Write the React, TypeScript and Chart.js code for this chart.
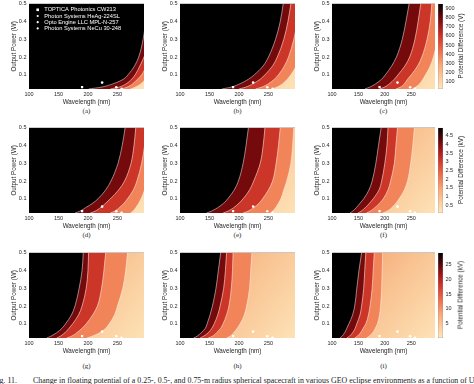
import React, { useEffect, useRef } from "react";
import { Chart, registerables } from "chart.js";
Chart.register(...registerables);

const SANS = "'Liberation Sans', Arial, Helvetica, sans-serif";
const SERIF = "'Liberation Serif', 'Times New Roman', serif";
const TXT = "#262626";

// ---------- data ----------
const P_LEVELS = [0.02, 0.03, 0.05, 0.075, 0.1, 0.15, 0.2, 0.3, 0.4, 0.5];
const X_TICKS = [100, 150, 200, 250];
const Y_TICKS = [0.1, 0.2, 0.3, 0.4, 0.5];
const X_MIN = 100, X_MAX = 295, Y_MIN = 0.02, Y_MAX = 0.5;

// contour wavelengths (nm) at each P_LEVELS value; *1 = edge of the saturated region
const A1 = [201, 222, 243, 260, 268, 279, 286, 293.5, 298, 302];
const A2 = [238, 252, 265, 274, 280, 288, 295, 305, 312, 318];
const A3 = [256, 266, 276, 284, 291, 299, 306, 315, 322, 328];
const A4 = [272, 280, 290, 297, 303, 310, 316, 325, 332, 338];

const B1 = [171, 186, 202, 216, 226, 241, 250, 262, 270, 275];
const B2 = [200, 211, 224, 236, 244, 257, 265, 276, 283, 288];
const B3 = [228, 238, 250, 260, 267, 277, 284, 293, 299, 303];
const B4 = [256, 264, 274, 282, 288, 297, 303, 311, 317, 321];

const C1 = [162, 171, 183, 194, 201, 213, 222, 233, 240, 246];
const C2 = [190, 199, 209, 218, 225, 238, 247, 257, 263, 268];
const C3 = [221, 229, 237, 243, 250, 262, 270, 280, 286, 289];
const C4 = [252, 258, 266, 272, 277, 286, 292, 300, 305, 309];

const D1 = [178, 186, 196, 208, 217, 230, 239, 251, 258, 263];
const D2 = [204, 212, 221, 230, 238, 252, 262, 273, 278, 281];
const D3 = [238, 245, 253, 261, 267, 277, 283, 291, 296, 300];
const D4 = [272, 276, 281, 286, 290, 296, 301, 308, 313, 317];

const E1 = [145, 153, 164, 174, 181, 192, 199, 207, 212, 216];
const E2 = [173, 181, 191, 200, 207, 218, 225, 236, 241, 244];
const E3 = [207, 215, 225, 234, 240, 250, 257, 263, 267, 270];
const E4 = [253, 257, 262, 267, 271, 276, 281, 288, 291, 293];

const F1 = [134, 139, 146, 153, 160, 170, 176, 183, 188, 193];
const F2 = [149, 155, 163, 171, 178, 189, 194, 200, 204, 206];
const F3 = [165, 172, 181, 190, 197, 206, 211, 218, 221, 224];
const F4 = [196, 204, 213, 221, 227, 237, 243, 249, 253, 256];

const G1 = [130, 137, 147, 156, 162, 172, 178, 185, 190, 192];
const G2 = [147, 153, 161, 168, 174, 184, 190, 197, 200, 201];
const G3 = [164, 172, 181, 190, 197, 208, 216, 223, 227, 230];
const G4 = [198, 207, 220, 230, 236, 245, 250, 259, 264, 267];

const H1 = [123, 129, 136, 143, 146, 151, 155, 161, 165, 169];
const H2 = [134, 140, 148, 154, 158, 164, 168, 174, 177, 179];
const H3 = [148, 155, 162, 169, 173, 179, 183, 187, 189, 190];
const H4 = [179, 185, 191, 197, 202, 209, 213, 218, 220, 222];

const I1 = [115, 119, 124, 128, 132, 139, 143, 147, 151, 156];
const I2 = [128, 133, 139, 144, 147, 153, 156, 160, 162, 164];
const I3 = [143, 148, 154, 159, 164, 169, 172, 176, 178, 180];
const I4 = [165, 170, 177, 182, 186, 190, 192, 194, 195, 196];

const LASER_NAMES = [
  "TOPTICA Photonics CW213",
  "Photon Systems HeAg-224SL",
  "Opto Engine LLC MPL-N-257",
  "Photon Systems NeCu 30-248",
];
const LASER_NM = [190, 224, 257, 248];
const LASER_W = [0.03, 0.056, 0.021, 0.03];
const LASER_STYLE = ["rect", "circle", "circle", "circle"];

const PANEL_LABELS = ["(a)", "(b)", "(c)", "(d)", "(e)", "(f)", "(g)", "(h)", "(i)"];
const PANEL_CURVES = [
  [A1, A2, A3, A4], [B1, B2, B3, B4], [C1, C2, C3, C4],
  [D1, D2, D3, D4], [E1, E2, E3, E4], [F1, F2, F3, F4],
  [G1, G2, G3, G4], [H1, H2, H3, H4], [I1, I2, I3, I4],
];

const CB_TITLES = ["Potential Difference (V)", "Potential Difference (kV)", "Potential Difference (kV)"];
const CB_RANGE_V = [20, 950];
const CB_TICKS_V = [100, 200, 300, 400, 500, 600, 700, 800, 900];
const CB_RANGE_KV1 = [0.05, 4.97];
const CB_TICKS_KV1 = [0.5, 1, 1.5, 2, 2.5, 3, 3.5, 4, 4.5];
const CB_RANGE_KV2 = [0.1, 29];
const CB_TICKS_KV2 = [5, 10, 15, 20, 25];
const CB_RANGES = [CB_RANGE_V, CB_RANGE_KV1, CB_RANGE_KV2];
const CB_TICKS = [CB_TICKS_V, CB_TICKS_KV1, CB_TICKS_KV2];

const CAPTION_HEAD = "Fig. 11.";
const CAPTION_BODY =
  "Change in floating potential of a 0.25-, 0.5-, and 0.75-m radius spherical spacecraft in various GEO eclipse environments as a function of UV laser wavelength and output power.";

// ---------- layout / style ----------
const ROW_TOPS = [2, 126, 251];
const COL_LEFTS = [29, 180, 332];
const COL_WIDTHS = [115, 115, 103];
const PLOT_H = 87;
const Y_AXIS_W = 30;
const X_AXIS_H = 17;
const PAD_T = 4;
const PAD_R = 4;
const CB_LEFT = 438;
const CB_W = 5;
const CB_AXIS_W = 14;
const LABEL_Y = [110.5, 234.5, 366];

const CMAP: [number, string][] = [
  [0, "#fde6be"], [0.12, "#fccf9c"], [0.28, "#f8a977"], [0.45, "#ee6d4a"],
  [0.6, "#d43b2d"], [0.74, "#a3171b"], [0.87, "#560607"], [1, "#000000"],
];
const BAND_FILLS = ["#740a0b", "#cc3628", "#f2845a"];
const LINE_COLORS = ["rgba(215,205,205,0.9)", "rgba(255,235,228,0.85)", "rgba(255,235,228,0.85)", "rgba(255,240,230,0.85)"];

const blackPlot = {
  id: "blackPlot",
  beforeDatasetsDraw(chart: any) {
    const a = chart.chartArea;
    chart.ctx.save();
    chart.ctx.fillStyle = "#000";
    chart.ctx.fillRect(a.left, a.top, a.right - a.left, a.bottom - a.top);
    chart.ctx.restore();
  },
};

const laserLegend = {
  id: "laserLegend",
  afterDatasetsDraw(chart: any) {
    const { ctx, chartArea: a } = chart;
    ctx.save();
    ctx.font = `5.7px ${SANS}`;
    ctx.fillStyle = "#fff";
    ctx.textBaseline = "middle";
    LASER_NAMES.forEach((name, i) => {
      const y = a.top + 6 + i * 6.2;
      const x = a.left + 8.7;
      if (LASER_STYLE[i] === "rect") ctx.fillRect(x - 1.3, y - 1.3, 2.6, 2.6);
      else {
        ctx.beginPath();
        ctx.arc(x, y, 1.1, 0, Math.PI * 2);
        ctx.fill();
      }
      ctx.fillText(name, a.left + 15.3, y);
    });
    ctx.restore();
  },
};

function Panel({ idx }: { idx: number }) {
  const ref = useRef<HTMLCanvasElement>(null);
  const col = idx % 3;
  const row = Math.floor(idx / 3);
  const left = COL_LEFTS[col];
  const top = ROW_TOPS[row];
  const w = COL_WIDTHS[col];
  const cw = Y_AXIS_W + w + PAD_R;
  const ch = PAD_T + PLOT_H + X_AXIS_H;

  useEffect(() => {
    const curves = PANEL_CURVES[idx];
    const lastFill = (c: any) => {
      const chart = c.chart;
      const a = chart.chartArea;
      if (!a) return "#fbc995";
      const g = chart.ctx.createLinearGradient(a.left, a.top, a.right, a.bottom);
      g.addColorStop(0, "#f39a68");
      g.addColorStop(0.5, "#f9c291");
      g.addColorStop(1, "#fde2b6");
      return g;
    };
    const datasets: any[] = [
      {
        label: "lasers",
        data: LASER_NM.map((x, i) => ({ x, y: LASER_W[i] })),
        showLine: false,
        pointStyle: LASER_STYLE,
        pointRadius: LASER_STYLE.map((s) => (s === "rect" ? 1.6 : 1.3)),
        pointBackgroundColor: "#ffffff",
        pointBorderWidth: 0,
        fill: false,
      },
    ];
    for (let k = curves.length - 1; k >= 0; k--) {
      datasets.push({
        label: "contour" + k,
        data: curves[k].map((x, i) => ({ x, y: P_LEVELS[i] })),
        borderColor: LINE_COLORS[k],
        borderWidth: 0.7,
        pointRadius: 0,
        cubicInterpolationMode: "monotone",
        tension: 0.4,
        fill: { value: 400 },
        backgroundColor: k === 3 ? lastFill : BAND_FILLS[k],
      });
    }
    const tickFont = { family: SANS, size: 5.5 };
    const titleFont = { family: SANS, size: 6.3 };
    const chart = new Chart(ref.current as HTMLCanvasElement, {
      type: "line",
      data: { datasets },
      plugins: idx === 0 ? [blackPlot, laserLegend] : [blackPlot],
      options: {
        indexAxis: "y",
        animation: false,
        responsive: false,
        events: [],
        layout: { padding: { top: PAD_T, right: PAD_R, left: 0, bottom: 0 } },
        plugins: { legend: { display: false }, tooltip: { enabled: false } },
        scales: {
          x: {
            type: "linear",
            min: X_MIN,
            max: X_MAX,
            afterBuildTicks: (s: any) => { s.ticks = X_TICKS.map((v) => ({ value: v })); },
            afterFit: (s: any) => { s.height = X_AXIS_H; },
            grid: { display: false, drawTicks: false },
            border: { display: false },
            ticks: { font: tickFont, color: TXT, padding: 2.5, maxRotation: 0, autoSkip: false, callback: (v: any) => String(v) },
            title: { display: true, text: "Wavelength (nm)", font: titleFont, color: TXT, padding: 0 },
          },
          y: {
            type: "linear",
            min: Y_MIN,
            max: Y_MAX,
            afterBuildTicks: (s: any) => { s.ticks = Y_TICKS.map((v) => ({ value: v })); },
            afterFit: (s: any) => { s.width = Y_AXIS_W; },
            grid: { display: false, drawTicks: false },
            border: { display: false },
            ticks: { font: tickFont, color: TXT, padding: 2.5, autoSkip: false, callback: (v: any) => Number(v).toFixed(1) },
            title: { display: true, text: "Output Power (W)", font: titleFont, color: TXT, padding: { top: 11, bottom: 0 } },
          },
        },
      } as any,
    });
    return () => chart.destroy();
  }, [idx]);

  return (
    <>
      <canvas
        ref={ref}
        width={cw}
        height={ch}
        style={{ position: "absolute", left: left - Y_AXIS_W, top: top - PAD_T, width: cw, height: ch }}
      />
      <div
        style={{
          position: "absolute",
          left: left + w / 2,
          top: LABEL_Y[row],
          transform: "translate(-50%, -50%)",
          font: `7px ${SERIF}`,
          lineHeight: "8px",
          color: TXT,
          whiteSpace: "nowrap",
        }}
      >
        {PANEL_LABELS[idx]}
      </div>
    </>
  );
}

function ColorBar({ row }: { row: number }) {
  const ref = useRef<HTMLCanvasElement>(null);
  const top = ROW_TOPS[row];
  const cw = 1 + CB_W + CB_AXIS_W;
  const ch = PAD_T + PLOT_H + X_AXIS_H;
  useEffect(() => {
    const range = CB_RANGES[row];
    const ticks = CB_TICKS[row];
    const grad = (c: any) => {
      const chart = c.chart;
      const ys = chart.scales && chart.scales.y;
      if (!chart.chartArea || !ys) return "#f08a5a";
      const g = chart.ctx.createLinearGradient(0, ys.getPixelForValue(range[0]), 0, ys.getPixelForValue(range[1]));
      CMAP.forEach(([t, col]) => g.addColorStop(t, col));
      return g;
    };
    const chart = new Chart(ref.current as HTMLCanvasElement, {
      type: "bar",
      data: {
        labels: [""],
        datasets: [
          {
            data: [[range[0], range[1]]] as any,
            backgroundColor: grad as any,
            borderColor: "#8a8a8a",
            borderWidth: 0.6,
            borderSkipped: false,
            barPercentage: 1,
            categoryPercentage: 1,
          },
        ],
      },
      options: {
        animation: false,
        responsive: false,
        events: [],
        layout: { padding: { top: PAD_T, bottom: X_AXIS_H, left: 1, right: 0 } },
        plugins: { legend: { display: false }, tooltip: { enabled: false } },
        scales: {
          x: { display: false },
          y: {
            position: "right",
            min: range[0],
            max: range[1],
            afterBuildTicks: (s: any) => { s.ticks = ticks.map((v) => ({ value: v })); },
            afterFit: (s: any) => { s.width = CB_AXIS_W; },
            grid: { display: false, drawTicks: false },
            border: { display: false },
            ticks: { font: { family: SANS, size: 5.5 }, color: TXT, padding: 2.5, autoSkip: false, callback: (v: any) => String(v) },
          },
        },
      } as any,
    });
    return () => chart.destroy();
  }, [row]);
  return (
    <>
      <canvas
        ref={ref}
        width={cw}
        height={ch}
        style={{ position: "absolute", left: CB_LEFT - 1, top: top - PAD_T, width: cw, height: ch }}
      />
      <div
        style={{
          position: "absolute",
          left: 459.5,
          top: top + PLOT_H / 2,
          transform: "translate(-50%, -50%) rotate(-90deg)",
          font: `6.3px ${SANS}`,
          lineHeight: "7px",
          color: TXT,
          whiteSpace: "nowrap",
        }}
      >
        {CB_TITLES[row]}
      </div>
    </>
  );
}

export default function App() {
  const capStyle: React.CSSProperties = {
    position: "absolute",
    top: 379.5,
    transform: "translateY(-50%)",
    font: `7.9px ${SERIF}`,
    lineHeight: "9px",
    color: "#222",
    whiteSpace: "nowrap",
  };
  return (
    <div style={{ position: "absolute", left: 0, top: 0, width: 474, height: 384, overflow: "hidden", background: "#fff" }}>
      {PANEL_LABELS.map((_, i) => (
        <Panel key={i} idx={i} />
      ))}
      {[0, 1, 2].map((r) => (
        <ColorBar key={r} row={r} />
      ))}
      <div style={{ ...capStyle, left: -7 }}>{CAPTION_HEAD}</div>
      <div style={{ ...capStyle, left: 33 }}>{CAPTION_BODY}</div>
    </div>
  );
}
